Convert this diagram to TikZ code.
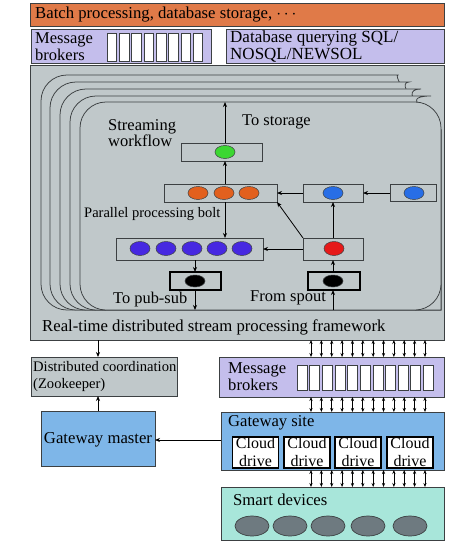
\documentclass[tikz,border=0pt]{standalone}
\usepackage{fontspec}
\setmainfont{Liberation Serif}
\usetikzlibrary{arrows.meta,calc,shapes.geometric}
\newcommand\myfs[2]{\fontsize{#1}{#2}\selectfont}
\definecolor{cOrange}{RGB}{224,122,72}
\definecolor{cLav}{RGB}{196,190,236}
\definecolor{cGray}{RGB}{192,200,202}
\definecolor{cBlue}{RGB}{126,182,232}
\definecolor{cTeal}{RGB}{168,230,218}
\definecolor{cEdge}{RGB}{60,64,66}
\definecolor{eOrange}{RGB}{226,96,30}
\definecolor{eBlue}{RGB}{40,110,230}
\definecolor{ePurple}{RGB}{70,40,225}
\definecolor{eRed}{RGB}{230,25,25}
\definecolor{eGreen}{RGB}{60,215,50}
\definecolor{eDev}{RGB}{110,122,128}
\tikzset{
  box/.style={draw=cEdge,line width=0.9pt,inner sep=0pt,outer sep=0pt},
  sbox/.style={draw=cEdge,line width=0.8pt,inner sep=0pt,outer sep=0pt,fill=cGray},
  kbox/.style={draw=black,line width=1.6pt,inner sep=0pt,outer sep=0pt,fill=cGray},
  slot/.style={draw=cEdge,line width=0.8pt,fill=white,inner sep=0pt,minimum width=9.5pt},
  ell/.style={ellipse,draw=cEdge,line width=0.5pt,inner sep=0pt,minimum width=20pt,minimum height=13pt},
  layer/.style={draw=cEdge,line width=0.75pt,fill=cGray},
  arr/.style={-{Stealth[length=5pt,width=4pt]},line width=0.8pt},
  darr/.style={{Stealth[length=4pt,width=3.2pt]}-{Stealth[length=4pt,width=3.2pt]},line width=0.7pt},
  lbl/.style={inner sep=0pt,anchor=west,align=left},
}
\begin{document}
\begin{tikzpicture}[x=1pt,y=-1pt]
\useasboundingbox (0,0) rectangle (474,543);
% top boxes
\node[box,fill=cOrange,minimum width=414pt,minimum height=23pt] (batch) at (237,14.5) {};
\node[lbl,font=\myfs{16.7}{17}] (batcht) at (35,14.5) {Batch processing, database storage, $\cdots$};
\node[box,fill=cLav,minimum width=180pt,minimum height=34pt] (mbt) at (121,46) {};
\node[lbl,font=\myfs{16.5}{17}] (mbtt) at (35,46.5) {Message\\brokers};
\foreach \i in {0,...,7} {\node[slot,minimum height=28pt] (ts\i) at ({112+12.3*\i},47) {};}
\node[box,fill=cLav,minimum width=218pt,minimum height=34pt] (db) at (335,46) {};
\node[lbl,font=\myfs{17}{17}] (dbt) at (230,46.5) {Database querying SQL/\\NOSQL/NEWSOL};
% big frame
\node[box,fill=cGray,minimum width=414pt,minimum height=275pt] (frame) at (237,202.5) {};
% back layers
\foreach \l/\t/\e in {41/75/372, 50/82/383, 60/89/395, 70/96/405} {
  \filldraw[layer,rounded corners=26pt] (250,310) -- (\l,310) -- (\l,\t) -- (\e,\t)
     [sharp corners] to[out=0,in=145] (421,106) -- (441,130) -- (441,310) -- cycle;
}
\node[box,draw=cEdge,line width=0.75pt,fill=cGray,rounded corners=26pt,minimum width=361pt,minimum height=208pt] (inner) at (260.5,206) {};
% workflow boxes
\node[sbox,minimum width=81pt,minimum height=18pt] (gbox) at (221.5,152) {};
\node[ell,fill=eGreen] (g1) at (225,152) {};
\node[sbox,minimum width=113pt,minimum height=18pt] (obox) at (220.5,193) {};
\node[ell,fill=eOrange] (o1) at (198,193) {};
\node[ell,fill=eOrange] (o2) at (224,193) {};
\node[ell,fill=eOrange] (o3) at (249,193) {};
\node[sbox,minimum width=60pt,minimum height=18pt] (bmid) at (333,193) {};
\node[ell,fill=eBlue] (b1) at (333,193) {};
\node[sbox,minimum width=46pt,minimum height=17pt] (bright) at (413,193) {};
\node[ell,fill=eBlue] (b2) at (414,193) {};
\node[sbox,minimum width=147pt,minimum height=22pt] (pbox) at (189.5,249) {};
\foreach \x [count=\i] in {140,166,192,217,242} {\node[ell,fill=ePurple,minimum height=14pt] (p\i) at (\x,248.5) {};}
\node[sbox,minimum width=60pt,minimum height=22pt] (rbox) at (333,249) {};
\node[ell,fill=eRed,minimum height=14pt] (r1) at (334,248.5) {};
\node[kbox,minimum width=51pt,minimum height=18pt] (kl) at (195.5,281) {};
\node[ell,fill=black,minimum height=12pt] (k1) at (195,281) {};
\node[kbox,minimum width=52pt,minimum height=18pt] (kr) at (334,281) {};
\node[ell,fill=black,minimum height=12pt] (k2) at (333,281) {};
% labels inside
\node[lbl,font=\myfs{16.5}{16.5}] (sw) at (108,133) {Streaming\\workflow};
\node[lbl,font=\myfs{16.4}{17}] (ts) at (242,122) {To storage};
\node[lbl,font=\myfs{14.5}{15}] (ppb) at (84,214) {Parallel processing bolt};
\node[lbl,font=\myfs{16.4}{17}] (tps) at (113,300) {To pub-sub};
\node[lbl,font=\myfs{16.5}{17}] (fsp) at (250,298) {From spout};
\node[lbl,font=\myfs{16.7}{17}] (rt) at (42,327) {Real-time distributed stream processing framework};
% interior arrows
\coordinate (xpub) at (195,0);
\coordinate (xsp) at (333,0);
\draw[arr] (g1 |- gbox.north) -- (g1 |- inner.north);
\draw[arr] (g1 |- obox.north) -- (g1 |- gbox.south);
\draw[arr] (bright.west) -- (bright.west -| bmid.east);
\draw[arr] (bmid.west) -- (bmid.west -| obox.east);
\draw[arr] (g1 |- obox.south) -- (g1 |- pbox.north);
\draw[arr] (rbox.west) -- (rbox.west -| pbox.east);
\draw[arr] (b1 |- rbox.north) -- (b1 |- bmid.south);
\draw[arr] (rbox.north west) -- (obox.south east);
\draw[arr] (xpub |- pbox.south) -- (xpub |- kl.north);
\draw[arr] (xpub |- kl.south) -- (xpub |- inner.south);
\draw[arr] (xsp |- inner.south) -- (xsp |- kr.south);
\draw[arr] (xsp |- kr.north) -- (xsp |- rbox.south);
% lower part
\node[box,fill=cGray,minimum width=146pt,minimum height=39pt] (zk) at (104,376.5) {};
\node[lbl,font=\myfs{14.6}{17}] (zkt) at (33,376.5) {Distributed coordination\\(Zookeeper)};
\node[box,fill=cBlue,minimum width=114pt,minimum height=55pt] (gm) at (98,438.5) {};
\node[inner sep=0pt,font=\myfs{16.7}{17}] (gmt) at (98,440) {Gateway master};
\node[box,fill=cLav,minimum width=225pt,minimum height=40pt] (mbb) at (331.5,377) {};
\node[lbl,font=\myfs{16.6}{17}] (mbbt) at (228,377) {Message\\brokers};
\foreach \i in {0,...,10} {\node[slot,minimum width=10pt,minimum height=25pt] (bs\i) at ({302+12.65*\i},377.5) {};}
\node[box,fill=cBlue,minimum width=223pt,minimum height=58pt] (gs) at (332.5,441) {};
\node[lbl,font=\myfs{16.6}{17}] (gst) at (228,423) {Gateway site};
\foreach \x [count=\i] in {255.5,307,358,410} {\node[draw=black,line width=1.1pt,fill=white,inner sep=0pt,minimum width=46pt,minimum height=31pt,align=center,font=\myfs{16}{18}] (cd\i) at (\x,452.5) {Cloud\\drive};}
\node[box,fill=cTeal,minimum width=223pt,minimum height=53pt] (sd) at (332.5,513.5) {};
\node[lbl,font=\myfs{16.7}{17}] (sdt) at (233,500) {Smart devices};
\foreach \x [count=\i] in {252,290,328,368,410} {\node[ellipse,draw=cEdge,line width=0.7pt,fill=eDev,minimum width=34pt,minimum height=20pt,inner sep=0pt] (dv\i) at (\x,526) {};}
\coordinate (xz) at (98,0);
\draw[arr] (xz |- frame.south) -- (xz |- zk.north);
\draw[arr] (xz |- gm.north) -- (xz |- zk.south);
\draw[arr] (gs.west |- gmt) -- (gm.east |- gmt);
\foreach \i in {0,...,11} {
  \coordinate (d\i) at ({311+10.36*\i},0);
  \draw[darr] (d\i |- frame.south) -- (d\i |- mbb.north);
  \draw[darr] (d\i |- mbb.south) -- (d\i |- gs.north);
  \draw[darr] (d\i |- gs.south) -- (d\i |- sd.north);
}
\end{tikzpicture}
\end{document}
